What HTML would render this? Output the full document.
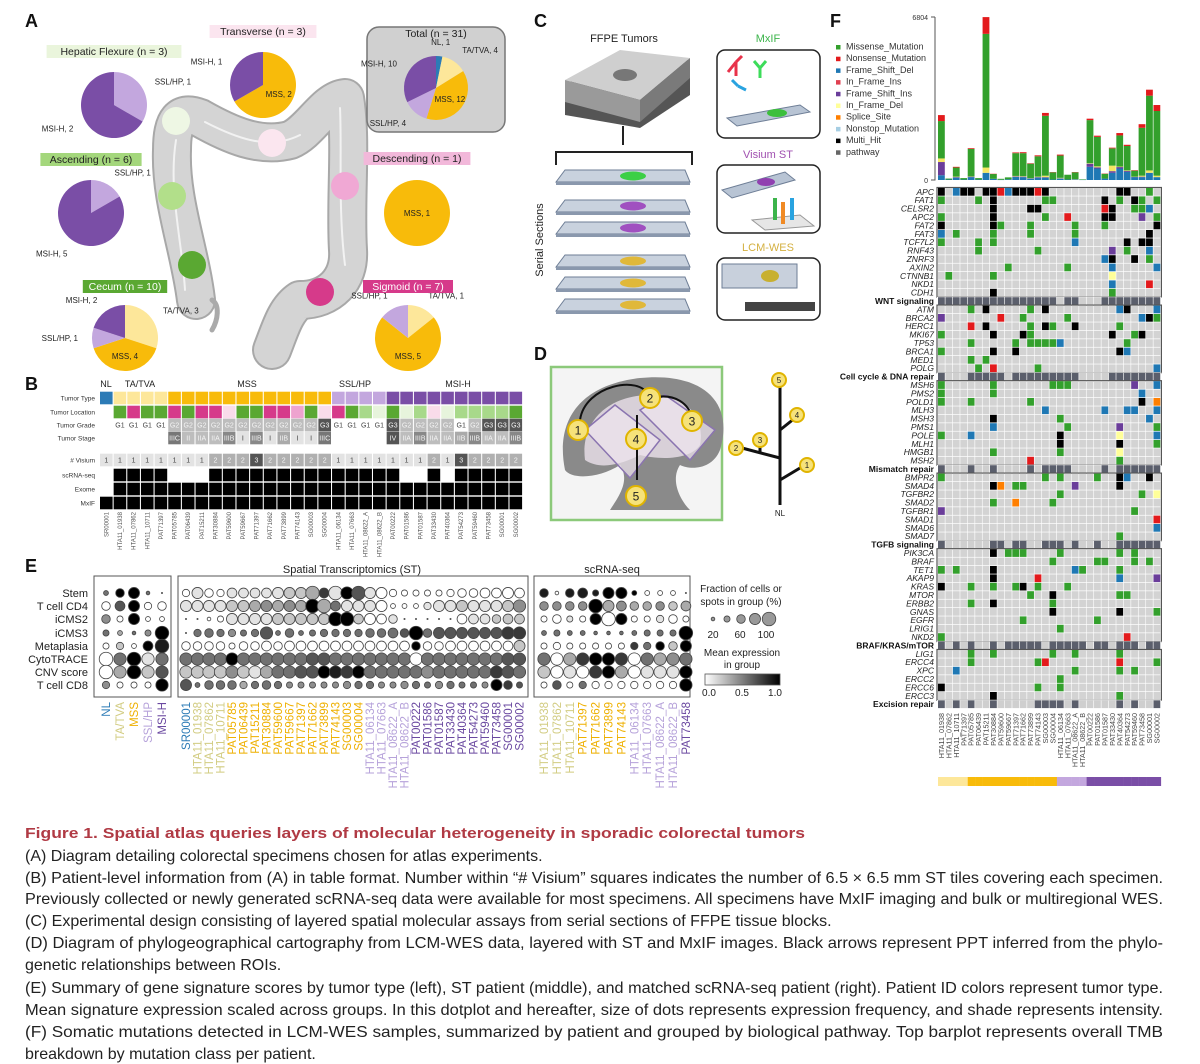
<!DOCTYPE html>
<html><head><meta charset="utf-8"><style>
html,body{margin:0;padding:0;background:#fff;}
svg{display:block;font-family:"Liberation Sans",sans-serif;}
</style></head><body>
<svg id="fig" width="1200" height="1064" viewBox="0 0 1200 1064" xmlns="http://www.w3.org/2000/svg">
<rect x="0" y="0" width="1200" height="1064" fill="#fff"/>
<g font-weight="bold" font-size="18" fill="#111">
<text x="25" y="27">A</text>
<text x="25" y="390">B</text>
<text x="534" y="27">C</text>
<text x="534" y="360">D</text>
<text x="25" y="572">E</text>
<text x="830" y="27">F</text>
</g>
<g id="colon" fill="none" stroke-linecap="round" stroke-linejoin="round">
<path d="M196,300 C190,250 170,200 172,150 C172,120 180,110 200,118 C230,135 260,148 290,140 C310,132 325,100 345,98 C352,140 345,200 348,250 C350,280 330,300 300,300 C285,310 280,330 272,350" stroke="#a8a8a8" stroke-width="40"/>
<path d="M196,300 C190,250 170,200 172,150 C172,120 180,110 200,118 C230,135 260,148 290,140 C310,132 325,100 345,98 C352,140 345,200 348,250 C350,280 330,300 300,300 C285,310 280,330 272,350" stroke="#d4d4d4" stroke-width="36"/>
<path d="M185,290 C182,240 168,190 176,140 M205,122 C240,140 270,150 300,135 M340,108 C342,150 338,210 345,265" stroke="#f2f2f2" stroke-width="2"/>
<path d="M212,300 C220,305 218,320 212,330" stroke="#aaa" stroke-width="5"/>
</g>
<g id="colon-dots"></g>
<g id="pies"></g>
<rect x="367" y="27" width="138" height="105" rx="12" fill="#d0d0d0" stroke="#777" stroke-width="1.5"/>
<g id="pies2"></g>
<g id="panelB"></g>
<g id="panelC">
<text x="624" y="42" font-size="11" text-anchor="middle" fill="#222">FFPE Tumors</text>
<path d="M565,85 L620,52 L690,60 L690,95 L640,128 L565,115 Z" fill="#555"/>
<path d="M565,80 L620,50 L690,58 L640,100 Z" fill="#cfcfcf"/>
<path d="M565,80 L640,100 L640,122 L565,102 Z" fill="#9a9a9a"/>
<path d="M640,100 L690,58 L690,78 L640,122 Z" fill="#7a7a7a"/>
<ellipse cx="625" cy="75" rx="12" ry="6" fill="#777"/>
<path d="M623,126 V145 M556,165 V152 H692 V165" stroke="#222" stroke-width="2" fill="none"/>
<text transform="translate(543,240) rotate(-90)" font-size="11" text-anchor="middle" fill="#222">Serial Sections</text>
<text x="768" y="42" font-size="11" text-anchor="middle" fill="#3cb44b">MxIF</text>
<rect x="717" y="50" width="103" height="88" rx="8" fill="#fff" stroke="#222" stroke-width="1.5"/>
<path d="M728,72 l8,-10 M736,62 l6,-6 M736,62 l0,14" stroke="#e8324a" stroke-width="3" fill="none"/>
<path d="M760,68 l-6,-7 M760,68 l6,-7 M760,68 v10" stroke="#3ddc5a" stroke-width="3" fill="none"/>
<path d="M738,86 l-6,-6 M738,86 l8,4 M738,86 v0" stroke="#29a3e0" stroke-width="3" fill="none"/>
<path d="M727,118 L800,105 L810,112 L737,126 Z" fill="#b8c4d4" stroke="#6e7e96"/>
<ellipse cx="777" cy="113" rx="10" ry="4" fill="#3cbf3c"/>
<text x="768" y="158" font-size="11" text-anchor="middle" fill="#a050b0">Visium ST</text>
<rect x="717" y="165" width="103" height="68" rx="8" fill="#fff" stroke="#222" stroke-width="1.5"/>
<path d="M722,190 L785,172 L795,180 L732,198 Z" fill="#b8c4d4" stroke="#6e7e96"/>
<ellipse cx="766" cy="182" rx="9" ry="4" fill="#9040b0"/>
<path d="M752,220 L800,215 L814,226 L765,230 Z" fill="#e6e6e6" stroke="#999"/>
<rect x="773" y="198" width="4" height="22" fill="#3cb44b"/><rect x="781" y="202" width="4" height="22" fill="#f08a24"/><rect x="790" y="198" width="4" height="22" fill="#29a3e0"/>
<text x="768" y="251" font-size="11" text-anchor="middle" fill="#d4b040">LCM-WES</text>
<rect x="717" y="258" width="103" height="62" rx="8" fill="#fff" stroke="#222" stroke-width="1.5"/>
<rect x="722" y="264" width="75" height="24" fill="#c8d0dc" stroke="#6e7e96"/>
<ellipse cx="770" cy="276" rx="9" ry="6" fill="#c8b030"/>
<rect x="745" y="302" width="70" height="9" fill="#444"/>
</g>
<g id="slides"></g>
<g id="panelD">
<rect x="551" y="367" width="171" height="153" fill="#f4f4f4" stroke="#8cc97a" stroke-width="2.5"/>
<path d="M565,470 C555,420 580,385 640,378 C700,372 735,400 720,450 C712,470 690,470 680,465 C670,480 680,500 690,510 L610,510 C620,495 630,480 620,465 C600,478 572,480 565,470 Z" fill="#8a8a8a"/>
<path d="M585,460 C580,420 610,395 650,395 C690,395 705,420 700,445 C690,460 660,460 640,455 C620,465 600,470 585,460 Z" fill="#d8d0d8"/>
<path d="M585,430 L615,405 L660,440 L630,478 Z" fill="#efe6ef" fill-opacity="0.7" stroke="#8a74b0" stroke-width="1.5"/>
<path d="M640,410 L665,395 L715,430 L690,460 Z" fill="#efe6ef" fill-opacity="0.7" stroke="#8a74b0" stroke-width="1.5"/>
<path d="M580,420 C585,385 640,375 648,395 M652,398 C675,392 690,405 692,418 M637,415 V480" stroke="#111" stroke-width="2" fill="none"/>
<path d="M780,382 V505 M780,480 L800,468 M780,458 L742,448 M760,452 V444 M780,430 L795,418" stroke="#111" stroke-width="3" fill="none"/>
<text x="780" y="516" font-size="8" text-anchor="middle" fill="#222">NL</text>
</g>
<g id="dnodes"></g>
<g id="panelE"></g>
<g id="panelF"></g>
<g id="caption" font-size="16" fill="#222">
<text x="25" y="838" fill="#b03a44" font-weight="bold" font-size="15" textLength="780" lengthAdjust="spacingAndGlyphs">Figure 1.  Spatial atlas queries layers of molecular heterogeneity in sporadic colorectal tumors</text>
<text x="25" y="861">(A) Diagram detailing colorectal specimens chosen for atlas experiments.</text>
<text x="25" y="883" textLength="1138" lengthAdjust="spacingAndGlyphs">(B) Patient-level information from (A) in table format. Number within “# Visium” squares indicates the number of 6.5 × 6.5 mm ST tiles covering each specimen.</text>
<text x="25" y="904" textLength="1138" lengthAdjust="spacingAndGlyphs">Previously collected or newly generated scRNA-seq data were available for most specimens. All specimens have MxIF imaging and bulk or multiregional WES.</text>
<text x="25" y="926">(C) Experimental design consisting of layered spatial molecular assays from serial sections of FFPE tissue blocks.</text>
<text x="25" y="948" textLength="1138" lengthAdjust="spacingAndGlyphs">(D) Diagram of phylogeographical cartography from LCM-WES data, layered with ST and MxIF images. Black arrows represent PPT inferred from the phylo-</text>
<text x="25" y="970">genetic relationships between ROIs.</text>
<text x="25" y="993" textLength="1138" lengthAdjust="spacingAndGlyphs">(E) Summary of gene signature scores by tumor type (left), ST patient (middle), and matched scRNA-seq patient (right). Patient ID colors represent tumor type.</text>
<text x="25" y="1015" textLength="1138" lengthAdjust="spacingAndGlyphs">Mean signature expression scaled across groups. In this dotplot and hereafter, size of dots represents expression frequency, and shade represents intensity.</text>
<text x="25" y="1037" textLength="1138" lengthAdjust="spacingAndGlyphs">(F) Somatic mutations detected in LCM-WES samples, summarized by patient and grouped by biological pathway. Top barplot represents overall TMB</text>
<text x="25" y="1059">breakdown by mutation class per patient.</text>
</g>
</svg>
<script>
const typeColors = {NL:'#2c7bb6', TA:'#fde79a', MSS:'#f8bb0a', SSL:'#c3a7de', MSI:'#7a4ea6'};
const typeText = {NL:'#2c7bb6', TA:'#d2cc82', MSS:'#eeb000', SSL:'#b6a2da', MSI:'#6a48a0'};
const pieNames = ['hepatic-flexure','transverse','total','ascending','descending','cecum','sigmoid'];
const pieTitles = ['Hepatic Flexure (n = 3)','Transverse (n = 3)','Total (n = 31)','Ascending (n = 6)','Descending (n = 1)','Cecum (n = 10)','Sigmoid (n = 7)'];
const pieTypes = [['SSL','MSI'],['MSS','MSI'],['NL','TA','MSS','SSL','MSI'],['SSL','MSI'],['MSS'],['TA','MSS','SSL','MSI'],['TA','MSS','SSL']];
const pieCounts = [[1,2],[2,1],[1,4,12,4,10],[1,5],[1],[3,4,1,2],[1,5,1]];
const typeLabel = {NL:'NL',TA:'TA/TVA',MSS:'MSS',SSL:'SSL/HP',MSI:'MSI-H'};
const bTypes = ['NL','TA','TA','TA','TA','MSS','MSS','MSS','MSS','MSS','MSS','MSS','MSS','MSS','MSS','MSS','MSS','SSL','SSL','SSL','SSL','MSI','MSI','MSI','MSI','MSI','MSI','MSI','MSI','MSI','MSI'];
const bLocation = ['','G','M','G','G','M','G','M','M','LP','G','G','M','M','P','G','LP','M','G','LG','VLG','G','VLG','LG','LP','VLG','LG','LG','LG','LG','G'];
const bGrade = ['','G1','G1','G1','G1','G2','G2','G2','G2','G2','G2','G2','G2','G2','G2','G2','G3','G1','G1','G1','G1','G3','G2','G2','G2','G2','G1','G2','G3','G3','G3'];
const bStage = ['','','','','','IIIC','II','IIA','IIA','IIIB','I','IIIB','I','IIB','I','I','IIIC','','','','','IV','IIA','IIIB','IIA','IIA','IIB','IIIB','IIA','IIA','IIIB'];
const bVisium = [1,1,1,1,1,1,1,1,2,2,2,3,2,2,2,2,2,1,1,1,1,1,1,1,2,1,3,2,2,2,2];
const bScRNA = [0,1,1,1,1,0,0,0,1,1,1,1,1,1,1,1,1,1,1,1,1,1,0,0,1,0,1,1,1,1,1];
const bExome = [0,1,1,1,1,1,1,1,1,1,1,1,1,1,1,1,1,1,1,1,1,1,1,1,1,1,1,1,1,1,1];
const bMxIF = [1,1,1,1,1,1,1,1,1,1,1,1,1,1,1,1,1,1,1,1,1,1,1,1,1,1,1,1,1,1,1];
const patients = ['SR00001','HTA11_01938','HTA11_07862','HTA11_10711','PAT71397','PAT05785','PAT06439','PAT15211','PAT30884','PAT59600','PAT59667','PAT71397','PAT71662','PAT73899','PAT74143','SG00003','SG00004','HTA11_06134','HTA11_07663','HTA11_08622_A','HTA11_08622_B','PAT00222','PAT01586','PAT01587','PAT33430','PAT40364','PAT54273','PAT59460','PAT73458','SG00001','SG00002'];
const eRows = ['Stem','T cell CD4','iCMS2','iCMS3','Metaplasia','CytoTRACE','CNV score','T cell CD8'];
const eLeftCols = ['NL','TA/TVA','MSS','SSL/HP','MSI-H'];
const eLeftTypes = ['NL','TA','MSS','SSL','MSI'];
const eLeftSize = ['25710','56745','53722','32139','34269','98988','98988','43338'];
const eLeftShade = ['59953','06900','40900','53549','02098','05915','03926','40009'];
const eStCols = ['SR00001','HTA11_01938','HTA11_07862','HTA11_10711','PAT05785','PAT06439','PAT15211','PAT30884','PAT59600','PAT59667','PAT71397','PAT71662','PAT73899','PAT74143','SG00003','SG00004','HTA11_06134','HTA11_07663','HTA11_08622_A','HTA11_08622_B','PAT00222','PAT01586','PAT01587','PAT33430','PAT40364','PAT54273','PAT59460','PAT73458','SG00001','SG00002'];
const eStTypes = ['NL','TA','TA','TA','MSS','MSS','MSS','MSS','MSS','MSS','MSS','MSS','MSS','MSS','MSS','MSS','SSL','SSL','SSL','SSL','MSI','MSI','MSI','MSI','MSI','MSI','MSI','MSI','MSI','MSI'];
const eStSize = ['475466667779698977433334556676','777777777779967777222477777778','001377777777799676500000666566','045443482523444455659577777788','555535565666666666665556666667','888888888888888888888888888888','888888888888888888888888888888','725554454333334443344344333753'];
const eStShade = ['010011111223719610000000000000','111122343439351110000111211124','000011112222299200100000011222','055545565555555555569566666677','000000000000000000009000000002','555595555556655555550555555566','222242135566987955555455555765','655553555444444554445545554976'];
const eScCols = ['HTA11_01938','HTA11_07862','HTA11_10711','PAT71397','PAT71662','PAT73899','PAT74143','HTA11_06134','HTA11_07663','HTA11_08622_A','HTA11_08622_B','PAT73458'];
const eScTypes = ['TA','TA','TA','MSS','MSS','MSS','MSS','SSL','SSL','SSL','SSL','MSI'];
const eScSize = ['515637722220','555597655556','353379733453','232211123339','343333344557','888888888888','888888888888','353444444448'];
const eScShade = ['808889990000','444493433423','001090900100','555555555559','000000075929','503799705345','201079301119','060500000009'];
const fPatients = ['HTA11_01938','HTA11_07862','HTA11_10711','PAT71397','PAT05785','PAT06439','PAT15211','PAT30884','PAT59600','PAT59667','PAT71397','PAT71662','PAT73899','PAT74143','SG00003','SG00004','HTA11_06134','HTA11_07663','HTA11_08622_A','HTA11_08622_B','PAT00222','PAT01586','PAT01587','PAT33430','PAT40364','PAT54273','PAT59460','PAT73458','SG00001','SG00002'];
const tmbMissense = [1560,40,380,60,1150,60,5580,200,40,80,950,960,600,850,2500,300,930,200,280,20,1800,1230,200,720,1300,1020,250,2000,3120,2700];
const tmbFrameDel = [200,20,100,20,120,20,300,50,10,30,130,120,60,100,100,20,60,20,30,10,550,480,60,300,480,340,120,120,300,120];
const tmbFrameIns = [550,0,20,0,20,0,0,0,0,0,20,20,10,20,20,0,10,0,0,0,130,50,0,70,60,40,10,20,0,0];
const tmbOther = [150,0,20,0,10,0,220,0,0,0,20,20,10,20,60,0,20,0,10,0,20,40,0,230,20,20,10,40,100,60];
const tmbNonsense = [250,0,30,0,30,0,700,10,0,0,30,40,20,40,120,10,40,0,10,0,60,50,10,30,100,50,20,150,250,250];
const tmbMax = 6804;
const pathwayNames = ['WNT signaling','Cell cycle & DNA repair','Mismatch repair','TGFB signaling','BRAF/KRAS/mTOR','Excision repair'];
const pathwayGenes = [
 ['APC','FAT1','CELSR2','APC2','FAT2','FAT3','TCF7L2','RNF43','ZNRF3','AXIN2','CTNNB1','NKD1','CDH1'],
 ['ATM','BRCA2','HERC1','MKI67','TP53','BRCA1','MED1','POLG'],
 ['MSH6','PMS2','POLD1','MLH3','MSH3','PMS1','POLE','MLH1','HMGB1','MSH2'],
 ['BMPR2','SMAD4','TGFBR2','SMAD2','TGFBR1','SMAD1','SMAD6','SMAD7'],
 ['PIK3CA','BRAF','TET1','AKAP9','KRAS','MTOR','ERBB2','GNAS','EGFR','LRIG1','NKD2'],
 ['LIG1','ERCC4','XPC','ERCC2','ERCC6','ERCC3']];
const pathwayMuts = [
 ['k.bkk.kkrbkkkrk.........kk..g.','g....g.k......gg......k.g.kg.gk','.......k....kk........rk..ggb.k','g......k......g..r....kk...p.g.','k......kg...g.....g...g......k','b.g....g....g.....g.........k.','g....g.g..........b......k.kk.','.....g.......g.........p.g..b.r','......................bk..k.g.','.........g.......g.....b.....b','.g.....g...............y......','.......................b....r.','.......k...............g......'],
 ['....g.k.....g.k.........bk...b','p.......r..g.....g.........bkg','....r.k.....g.kg..k.....g.....','g......k...kg..........k..gk..','....g.....g.ggggb........g....','g......k..k.............kb....','....g.g.......................','.....g.r.....g...............b'],
 ['g......g.......ggg........p..b','g......g...................b..','g...g.......g..............k.o','..............b.......b..bb..b','.......k........g...........b.','.......b.........g......p....g','g...b...........k.......y....b','................k.......k....g','.......g........g.......y.....','............r...........g.....'],
 ['g.............g.g....g..kb..k.','.......ko.gg......p.....k.....','................g..........g.y','.......g..o....g..............','p.........................g...','.............................r','.............................b','........................g.....'],
 ['.......k.ggg....g.......g.g...','...............g.....gg...g.g.','g.g....k..........bg....g.....','.......k.....r..........b....p','k...g..g..gk.g...g............','............g..k........gg....','....g..k.......g..............','...............k........k....g','...........g.........g........','................g.............','g........................r....'],
 ['....g..g.......g..g.....g.....','....g........gr.........r....g','..b...............g.....g.g...','................g.............','k............g..g.............','.......k................g.....']];
const fTypeBar = ['TA','TA','TA','TA','MSS','MSS','MSS','MSS','MSS','MSS','MSS','MSS','MSS','MSS','MSS','MSS','SSL','SSL','SSL','SSL','MSI','MSI','MSI','MSI','MSI','MSI','MSI','MSI','MSI','MSI'];
const mutColors = {g:'#33a02c',k:'#000000',b:'#1f78b4',r:'#e31a1c',p:'#6a3d9a',y:'#ffff99',o:'#ff7f00'};
const legendLabels = ['Missense_Mutation','Nonsense_Mutation','Frame_Shift_Del','In_Frame_Ins','Frame_Shift_Ins','In_Frame_Del','Splice_Site','Nonstop_Mutation','Multi_Hit','pathway'];
const legendColors = ['#33a02c','#e31a1c','#1f78b4','#e04050','#6a3d9a','#ffff99','#ff7f00','#a6cee3','#000000','#666666'];

const NS='http://www.w3.org/2000/svg';
function el(tag, attrs, parent){const e=document.createElementNS(NS,tag);for(const k in attrs)e.setAttribute(k,attrs[k]);parent.appendChild(e);return e;}
function txt(s, attrs, parent){const e=el('text',attrs,parent);e.textContent=s;return e;}
function fix(s,n,c){s=s||'';while(s.length<n)s+=c;return s.slice(0,n);}

const pieG=document.getElementById('pies');
const pie2=document.getElementById('pies2');
const pieCx=[114,263,436,91,417,125,408], pieCy=[105,85,88,213,213,338,338];
const titleBg=['#eaf5dc','#fbe5ef',null,'#a4d77c','#f2b8da','#5aa832','#d63a8a'];
const titleFg=['#222','#222','#222','#222','#222','#fff','#fff'];
const titleY=[55,35,37,163,162,290,290];
pieNames.forEach((nm,i)=>{
  const par = i===2?pie2:pieG;
  const vals=pieCounts[i], tot=vals.reduce((a,b)=>a+b,0), r=i===2?32:33;
  let a0=-Math.PI/2;
  vals.forEach((v,j)=>{
    const a1=a0+2*Math.PI*v/tot, cx=pieCx[i], cy=pieCy[i];
    let p;
    if(v===tot){p=el('circle',{cx:cx,cy:cy,r:r,fill:typeColors[pieTypes[i][j]]},par);}
    else{const large=(a1-a0)>Math.PI?1:0;
      p=el('path',{d:`M${cx},${cy} L${cx+r*Math.cos(a0)},${cy+r*Math.sin(a0)} A${r},${r} 0 ${large} 1 ${cx+r*Math.cos(a1)},${cy+r*Math.sin(a1)} Z`,fill:typeColors[pieTypes[i][j]]},par);}
    
    
    const am=(a0+a1)/2, inside=(v/tot>0.3 && pieTypes[i][j]==='MSS');
    const lr=inside?r*0.55:r+14;
    let lx=cx+lr*Math.cos(am), ly=cy+lr*Math.sin(am)+3;
    if(v===tot){lx=cx;ly=cy+3;}
    const anchor=inside||v===tot?'middle':(Math.cos(am)>0.2?'start':(Math.cos(am)<-0.2?'end':'middle'));
    const t=txt(typeLabel[pieTypes[i][j]]+', '+v,{x:lx,y:ly,'font-size':'8','text-anchor':anchor,fill:'#222'},par);
    
    
    a0=a1;
  });
  const tw=pieTitles[i].length*5.6+6;
  if(titleBg[i]){const b=el('rect',{x:pieCx[i]-tw/2,y:titleY[i]-10,width:tw,height:13,fill:titleBg[i]},par);
    
    }
  const tt=txt(pieTitles[i],{x:pieCx[i],y:titleY[i],'font-size':'10.5','text-anchor':'middle',fill:titleFg[i]},par);
  
  
});
const dotG=document.getElementById('colon-dots');
const colonDotX=[176,272,172,192,345,320], colonDotY=[121,143,196,265,186,292];
const colonDotC=['#eef7e4','#fbe6ef','#b2df8a','#5aa832','#f0a8d4','#d63a8a'];
colonDotX.forEach((x,i)=>{const c=el('circle',{cx:x,cy:colonDotY[i],r:14,fill:colonDotC[i]},dotG);
  
  });

const bG=document.getElementById('panelB');
const bx0=100,bw=13.65,bc=12.6;
const locColor={G:'#5aa832',M:'#d63a8a',LP:'#f9dcea',P:'#eea3cf',LG:'#a8d98a',VLG:'#e7f4dc'};
const rowLab=['Tumor Type','Tumor Location','Tumor Grade','Tumor Stage','# Visium','scRNA-seq','Exome','MxIF'];
const rowY=[398,412,425,438,460,475,489,503];
rowLab.forEach((l,i)=>{const t=txt(l,{x:95,y:rowY[i]+2.5,'font-size':'6.5','text-anchor':'end',fill:'#333'},bG);
  
  });
const grpLab=['NL','TA/TVA','MSS','SSL/HP','MSI-H'], grpX=[106,140,247,355,458];
grpLab.forEach((l,i)=>{const t=txt(l,{x:grpX[i],y:387,'font-size':'9','text-anchor':'middle',fill:'#222'},bG);
  
  });
function cell(i,row,fill,name,label,fg){
  const x=bx0+i*bw, y=rowY[row]-bc/2;
  const r=el('rect',{x:x,y:y,width:bc,height:bc,fill:fill},bG);
  
  
  if(label){const t=txt(label,{x:x+bc/2,y:y+bc/2+2.5,'font-size':'7','text-anchor':'middle',fill:fg},bG);
    
    }
}
const gradeCol={G1:'#ffffff',G2:'#bdbdbd',G3:'#555555'};
const stageCol={I:'#e3e3e3',II:'#bdbdbd',IIA:'#bdbdbd',IIB:'#aaaaaa',IIIB:'#888888',IIIC:'#777777',IV:'#555555'};
const visCol={1:'#e3e3e3',2:'#b0b0b0',3:'#555555'};
bTypes.forEach((t,i)=>{
  cell(i,0,typeColors[t],'tumor-type-cell');
  if(bLocation[i])cell(i,1,locColor[bLocation[i]],'tumor-location-cell');
  if(bGrade[i])cell(i,2,gradeCol[bGrade[i]],'tumor-grade-cell',bGrade[i],bGrade[i]==='G1'?'#444':'#f4f4f4');
  if(bStage[i])cell(i,3,stageCol[bStage[i]],'tumor-stage-cell',bStage[i],bStage[i]==='I'?'#444':'#f4f4f4');
  cell(i,4,visCol[bVisium[i]],'visium-count-cell',String(bVisium[i]),bVisium[i]===1?'#444':'#f4f4f4');
  if(bScRNA[i])cell(i,5,'#000','scrna-available-cell');
  if(bExome[i])cell(i,6,'#000','exome-available-cell');
  if(bMxIF[i])cell(i,7,'#000','mxif-available-cell');
  const x=bx0+i*bw+bc/2+2;
  const lt=txt(patients[i],{x:x,y:512,'font-size':'6','text-anchor':'end',fill:'#555',transform:`rotate(-90 ${x} 512)`},bG);
  
  
});

const slG=document.getElementById('slides');
const slideY=[170,200,222,255,277,299], slideC=['#3ccf46','#a050c0','#a050c0','#e0b83a','#e0b83a','#e0b83a'];
slideY.forEach((y,i)=>{
  const s=el('path',{d:`M556,${y+12} L565,${y} L685,${y} L690,${y+12} Z`,fill:'#c9d2de',stroke:'#6e7e96','stroke-width':'1'},slG);
  
  
  const b=el('rect',{x:556,y:y+12,width:134,height:3,fill:'#8a98ad'},slG);
  
  
  const e=el('ellipse',{cx:633,cy:y+6,rx:13,ry:4.5,fill:slideC[i]},slG);
  
  
});
const dn=document.getElementById('dnodes');
const nodeX=[578,650,692,636,636,779,797,760,736,807], nodeY=[430,398,421,439,496,380,415,440,448,465], nodeL=['1','2','3','4','5','5','4','3','2','1'];
nodeX.forEach((x,i)=>{const big=i<5;
  const c=el('circle',{cx:x,cy:nodeY[i],r:big?10:7,fill:'#f6e27a',stroke:'#e0b400','stroke-width':'2'},dn);
  
  
  const t=txt(nodeL[i],{x:x,y:nodeY[i]+(big?4.5:3),'font-size':big?'12':'8','text-anchor':'middle',fill:'#222'},dn);
  
  });

const eG=document.getElementById('panelE');
const eRowY=[593,606,619,633,646,659,672,685];
function rad(d){return d===0?0.6:1.2+0.62*d;}
function shade(d){const v=Math.round(255*(1-d/9));return `rgb(${v},${v},${v})`;}
function dotBlock(cols,types,sizes,shades,x0,dx,boxX,boxW,name){
  const b=el('rect',{x:boxX,y:576,width:boxW,height:121,fill:'#fff',stroke:'#555','stroke-width':'1'},eG);
  
  
  eRows.forEach((r,ri)=>{
    const sz=fix(sizes[ri],cols.length,'3'), sh=fix(shades[ri],cols.length,'0');
    cols.forEach((c,ci)=>{
      const s=+sz[ci], h=+sh[ci];
      const d=el('circle',{cx:x0+ci*dx,cy:eRowY[ri],r:rad(s),fill:shade(h),stroke:'#444','stroke-width':'0.8'},eG);
      
      
    });
  });
  cols.forEach((c,ci)=>{const x=x0+ci*dx+4;
    const t=txt(c,{x:x,y:702,'font-size':'11.5','text-anchor':'end',fill:typeText[types[ci]],transform:`rotate(-90 ${x} 702)`},eG);
    
    });
}
eRows.forEach((r,ri)=>{const t=txt(r,{x:88,y:eRowY[ri]+4,'font-size':'11','text-anchor':'end',fill:'#222'},eG);
  
  });
dotBlock(eLeftCols,eLeftTypes,eLeftSize,eLeftShade,106,14,94,77,'tumor-type-dotplot');
dotBlock(eStCols,eStTypes,eStSize,eStShade,186,11.5,178,350,'st-dotplot');
dotBlock(eScCols,eScTypes,eScSize,eScShade,544,12.9,534,156,'scrna-dotplot');
const t1=txt('Spatial Transcriptomics (ST)',{x:352,y:573,'font-size':'11','text-anchor':'middle',fill:'#222'},eG);


const t2=txt('scRNA-seq',{x:612,y:573,'font-size':'11','text-anchor':'middle',fill:'#222'},eG);


const legLines=[['Fraction of cells or',741,592],['spots in group (%)',741,605],['Mean expression',742,656],['in group',742,668]];
legLines.forEach(l=>{const t=txt(l[0],{x:l[1],y:l[2],'font-size':'10','text-anchor':'middle',fill:'#222'},eG);
  
  });
const legendSizes=[1,3,5,7,9];
legendSizes.forEach((s,i)=>{const c=el('circle',{cx:713+i*14,cy:619,r:rad(s),fill:'#999',stroke:'#444','stroke-width':'0.8'},eG);
  
  });
const legendPct=['20','60','100'], legendPctX=[713,740,766];
legendPct.forEach((s,i)=>{const t=txt(s,{x:legendPctX[i],y:638,'font-size':'10','text-anchor':'middle',fill:'#222'},eG);
  
  });
const defs=el('defs',{},eG);
const lg=el('linearGradient',{id:'gw'},defs);
el('stop',{offset:'0','stop-color':'#fff'},lg);el('stop',{offset:'1','stop-color':'#000'},lg);
const cb=el('rect',{x:705,y:674,width:75,height:11,fill:'url(#gw)',stroke:'#555','stroke-width':'0.8'},eG);


const cbLab=['0.0','0.5','1.0'], cbX=[709,742,775];
cbLab.forEach((s,i)=>{const t=txt(s,{x:cbX[i],y:696,'font-size':'10','text-anchor':'middle',fill:'#222'},eG);
  
  });

const fG=document.getElementById('panelF');
const fx0=938, fdx=7.43, fcw=6.8, barTop=17, barBase=180;
function yScale(v){return barBase-(barBase-barTop)*v/tmbMax;}
const ax=el('path',{d:`M935,${barTop} H931 M935,${barTop} V${barBase} H931`,stroke:'#555',fill:'none','stroke-width':'1'},fG);


const yl1=txt(String(tmbMax),{x:928,y:barTop+3,'font-size':'7','text-anchor':'end',fill:'#333'},fG);


const yl2=txt('0',{x:928,y:barBase+3,'font-size':'7','text-anchor':'end',fill:'#333'},fG);


const stackSeries=[tmbFrameDel,tmbFrameIns,tmbOther,tmbMissense,tmbNonsense];
const stackColors=['#1f78b4','#6a3d9a','#f5e663','#33a02c','#e31a1c'];
fPatients.forEach((p,i)=>{let cum=0;
  stackSeries.forEach((s,k)=>{const v=s[i]; if(!v)return;
    const y1=yScale(cum), y2=yScale(cum+v);
    const r=el('rect',{x:fx0+i*fdx,y:y2,width:fcw,height:Math.max(0.3,y1-y2),fill:stackColors[k]},fG);
    
    
    cum+=v;});
});
legendLabels.forEach((l,i)=>{const y=49+i*11.7;
  const r=el('rect',{x:836,y:y-4,width:4.5,height:4.5,fill:legendColors[i]},fG);
  
  
  const t=txt(l,{x:846,y:y+0.5,'font-size':'9','fill':'#333'},fG);
  
  });
let rowIdx=0; const gridTop=188, rh=8.4;
pathwayNames.forEach((pn,pi)=>{
  const genes=pathwayGenes[pi], muts=pathwayMuts[pi];
  const yStart=gridTop+rowIdx*rh;
  const bg=el('rect',{x:fx0-1,y:yStart-0.5,width:30*fdx+1.5,height:genes.length*rh+0.5,fill:'#fff',stroke:'#555','stroke-width':'1.2'},fG);
  
  
  genes.forEach((g,gi)=>{const y=gridTop+rowIdx*rh; const m=fix(muts[gi],30,'.');
    for(let c=0;c<30;c++){const ch=m[c];
      const r=el('rect',{x:fx0+c*fdx,y:y,width:fcw,height:rh-0.7,fill:ch==='.'?'#d3d3d3':mutColors[ch]},fG);
      
      }
    const t=txt(g,{x:934,y:y+6.8,'font-size':'8.5','font-style':'italic','text-anchor':'end',fill:'#222'},fG);
    
    
    rowIdx++;});
  const y=gridTop+rowIdx*rh;
  const hb=el('rect',{x:fx0-1,y:y-0.3,width:30*fdx+1.5,height:rh,fill:'#fff'},fG);
  
  
  for(let c=0;c<30;c++){let any=muts.some(s=>fix(s,30,'.')[c]!=='.');
    const r=el('rect',{x:fx0+c*fdx,y:y,width:fcw,height:rh-0.7,fill:any?'#5b5f6c':'#cfcfcf'},fG);
    
    }
  const t=txt(pn,{x:934,y:y+6.8,'font-size':'8.5','font-weight':'bold','text-anchor':'end',fill:'#111'},fG);
  
  
  rowIdx++;
});
fPatients.forEach((p,i)=>{const x=fx0+i*fdx+6;
  const t=txt(p,{x:x,y:713,'font-size':'7.2','text-anchor':'end',fill:'#444',transform:`rotate(-90 ${x} 713)`},fG);
  
  
  const r=el('rect',{x:fx0+i*fdx,y:777,width:fdx+0.2,height:9,fill:typeColors[fTypeBar[i]]},fG);
  
  });
</script>
</body></html>
